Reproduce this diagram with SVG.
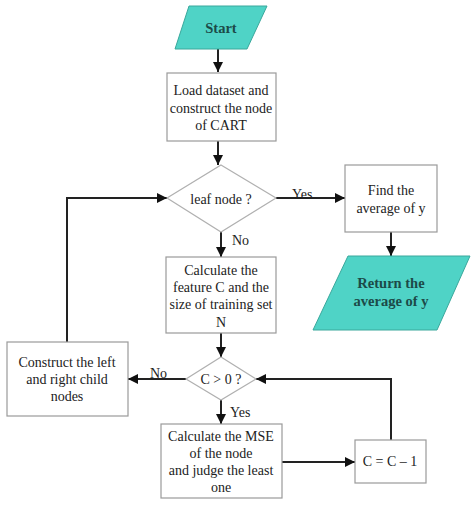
<svg xmlns="http://www.w3.org/2000/svg" width="474" height="507" viewBox="0 0 474 507">
<style>
text{font-family:"Liberation Serif","Times New Roman",serif;font-size:14px;fill:#222;text-anchor:middle}
.box{fill:#fff;stroke:#9a9a9a;stroke-width:1.2}
.dia{fill:#fff;stroke:#b0b0b0;stroke-width:1.2}
.io{fill:#4fd3c6;stroke:#3aa89c;stroke-width:1}
.iot{font-weight:bold;fill:#1c4a48;font-size:14.5px}
.ln{fill:none;stroke:#222;stroke-width:2}
.lbl{text-anchor:start}
</style>
<defs>
<marker id="ah" viewBox="0 0 10 10" refX="10" refY="5" markerWidth="10" markerHeight="10" markerUnits="userSpaceOnUse" orient="auto"><path d="M0,0 L10,5 L0,10 z" fill="#111"/></marker>
</defs>
<rect width="474" height="507" fill="#fff"/>
<g id="connectors">
<line class="ln" x1="218" y1="49" x2="218" y2="72" marker-end="url(#ah)"/>
<line class="ln" x1="218" y1="141" x2="218" y2="165" marker-end="url(#ah)"/>
<line class="ln" x1="276" y1="198" x2="345" y2="198" marker-end="url(#ah)"/>
<line class="ln" x1="391" y1="232" x2="391" y2="256" marker-end="url(#ah)"/>
<line class="ln" x1="221" y1="232" x2="221" y2="257" marker-end="url(#ah)"/>
<line class="ln" x1="221" y1="333" x2="221" y2="357" marker-end="url(#ah)"/>
<line class="ln" x1="186" y1="379" x2="128" y2="379" marker-end="url(#ah)"/>
<polyline class="ln" points="67,342 67,198 167,198" marker-end="url(#ah)"/>
<line class="ln" x1="221" y1="400" x2="221" y2="424" marker-end="url(#ah)"/>
<line class="ln" x1="282" y1="462" x2="355" y2="462" marker-end="url(#ah)"/>
<polyline class="ln" points="391,440 391,379 256,379" marker-end="url(#ah)"/>
<text class="lbl" x="292" y="199">Yes</text>
<text class="lbl" x="232" y="245">No</text>
<text class="lbl" x="150" y="378">No</text>
<text class="lbl" x="230" y="417">Yes</text>
</g>
<g id="start">
<polygon class="io" points="189,6 267,6 247,49 175,49"/>
<text class="iot" x="221" y="33">Start</text>
</g>
<g id="load">
<rect class="box" x="167" y="73" width="109" height="68"/>
<text x="221" y="95">Load dataset and</text>
<text x="221" y="113">construct the node</text>
<text x="221" y="130">of CART</text>
</g>
<g id="leaf">
<polygon class="dia" points="221,165 276,198 221,232 167,198"/>
<text x="221" y="204">leaf node ?</text>
</g>
<g id="find">
<rect class="box" x="345" y="165" width="92" height="67"/>
<text x="391" y="195">Find the</text>
<text x="391" y="213">average of y</text>
</g>
<g id="return">
<polygon class="io" points="348,256 470,256 437,330 313,330"/>
<text class="iot" x="391" y="288">Return the</text>
<text class="iot" x="391" y="306">average of y</text>
</g>
<g id="calc">
<rect class="box" x="166" y="257" width="110" height="76"/>
<text x="221" y="275">Calculate the</text>
<text x="221" y="292">feature C and the</text>
<text x="221" y="309">size of training set</text>
<text x="221" y="327">N</text>
</g>
<g id="cgt0">
<polygon class="dia" points="221,357 256,379 221,400 186,379"/>
<text x="221" y="384">C &gt; 0 ?</text>
</g>
<g id="construct">
<rect class="box" x="7" y="342" width="121" height="74"/>
<text x="67" y="367">Construct the left</text>
<text x="67" y="384">and right child</text>
<text x="67" y="401">nodes</text>
</g>
<g id="mse">
<rect class="box" x="161" y="424" width="121" height="74"/>
<text x="221" y="441">Calculate the MSE</text>
<text x="221" y="458">of the node</text>
<text x="221" y="475">and judge the least</text>
<text x="221" y="492">one</text>
</g>
<g id="cdec">
<rect class="box" x="355" y="440" width="71" height="43"/>
<text x="390" y="466">C = C – 1</text>
</g>
</svg>
